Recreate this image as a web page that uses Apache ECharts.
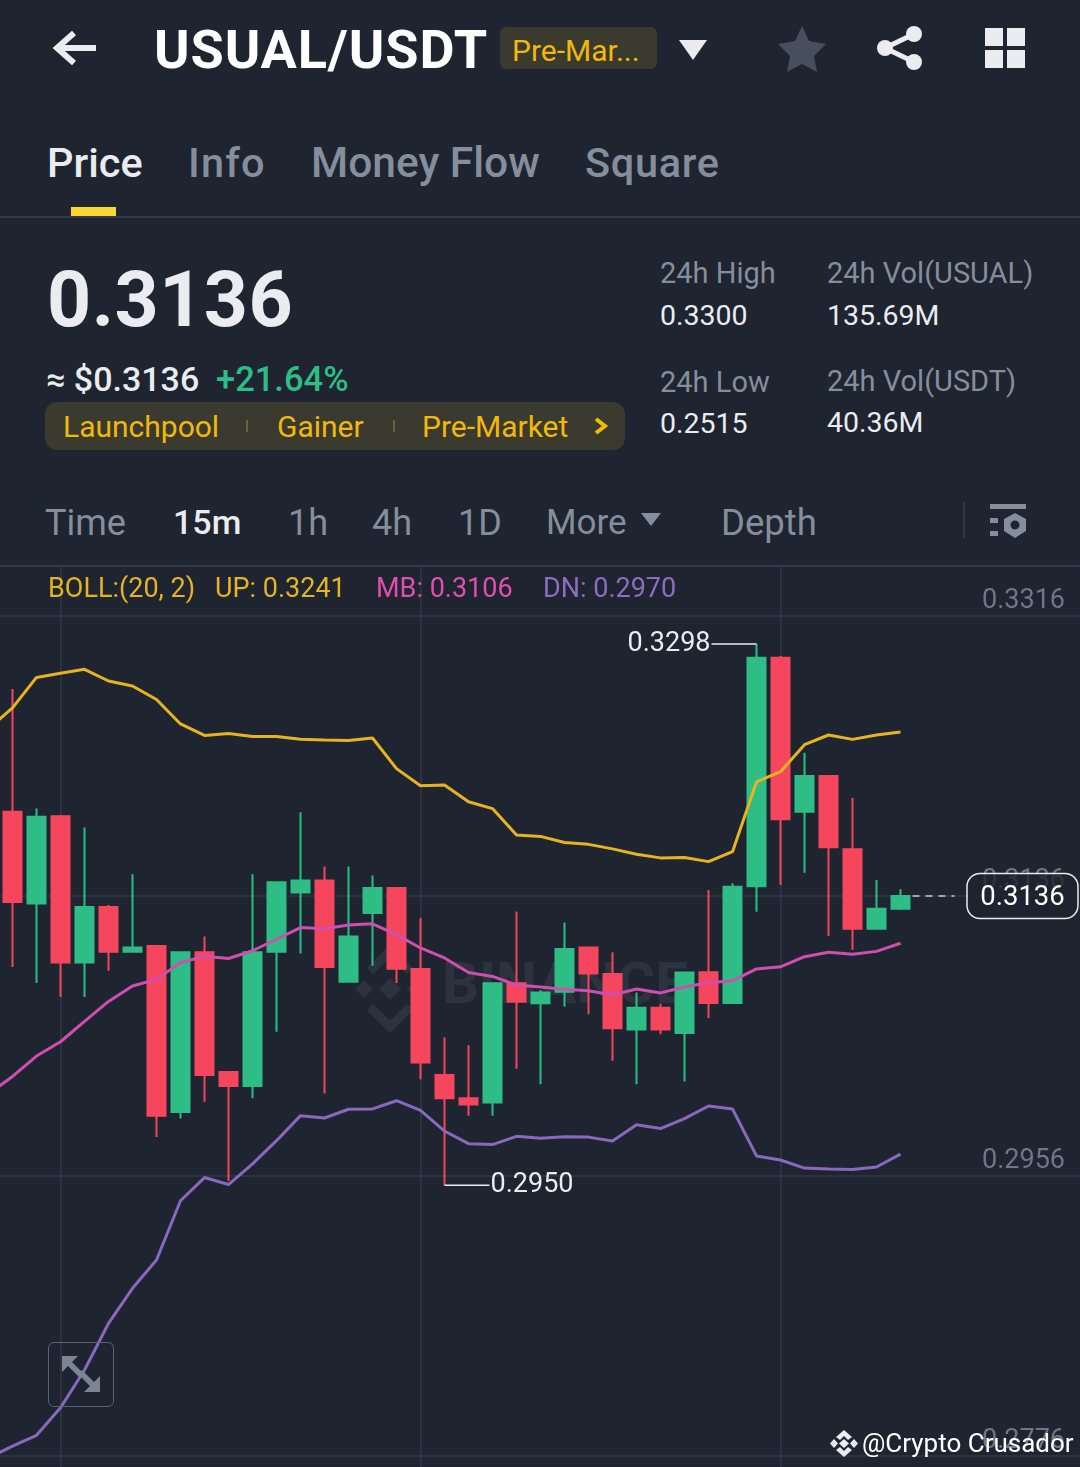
<!DOCTYPE html>
<html>

<head>
    <meta charset="utf-8">
    <title>USUAL/USDT</title>
    <script src="https://cdn.jsdelivr.net/npm/echarts@6/dist/echarts.min.js"></script>
    <style>
        html, body { margin: 0; padding: 0; background: #1E2430; }
        body { width: 1080px; height: 1467px; position: relative; overflow: hidden; font-family: Roboto, "Noto Sans", sans-serif; }
        #main { position: absolute; left: 0; top: 566px; width: 1080px; height: 901px; }
        .t { position: absolute; white-space: nowrap; line-height: 1; }
        .line { position: absolute; left: 0; width: 1080px; height: 2px; background: #333A47; }
        .box { position: absolute; }
        svg { position: absolute; overflow: visible; }
    </style>
</head>

<body>
    <div id="main"></div>

    <!-- top bar -->
    <svg style="left:0;top:0" width="1080" height="566">
        <path d="M96 48H58M74 33L57 48L74 63" fill="none" stroke="#EAECEF" stroke-width="6"/>
        <path d="M679 40H707L693 60Z" fill="#EAECEF"/>
        <path d="M802 26L809 41L826 44L814 56L817 72L802 64L787 72L790 56L778 44L795 41Z" fill="#474F5F"/>
        <g fill="#EAECEF"><circle cx="914" cy="34" r="8"/><circle cx="885" cy="48" r="8"/><circle cx="914" cy="62" r="8"/></g>
        <path d="M914 34L885 48L914 62" fill="none" stroke="#EAECEF" stroke-width="5"/>
        <g fill="#EAECEF"><rect x="985" y="28" width="18" height="18"/><rect x="1007" y="28" width="18" height="18"/><rect x="985" y="50" width="18" height="18"/><rect x="1007" y="50" width="18" height="18"/></g>
        <path d="M641 513H661L651 526Z" fill="#848E9C"/>
        <rect x="963" y="502" width="2" height="36" fill="#333A47"/>
        <g fill="#848E9C">
            <rect x="990" y="504" width="36" height="5"/><rect x="990" y="518" width="8" height="5"/><rect x="990" y="531" width="8" height="5"/>
            <path d="M1015 513L1026 519V531L1015 538L1004 531V519Z"/>
        </g>
        <circle cx="1015" cy="525" r="4.5" fill="#1E2430"/>
    </svg>
    <div class="t" style="left:154px;top:23px;font-size:54px;font-weight:700;color:#fff;letter-spacing:0.9px">USUAL/USDT</div>
    <div class="box" style="left:500px;top:27px;width:157px;height:42px;background:#3A3A2F;border-radius:6px"></div>
    <div class="t" style="left:512px;top:36px;font-size:30px;color:#F0B90B">Pre-Mar...</div>

    <div class="t" style="left:47px;top:142px;font-size:41.5px;font-weight:500;color:#EAECEF">Price</div>
    <div class="t" style="left:188px;top:142px;font-size:41.5px;font-weight:500;color:#848E9C;letter-spacing:1.2px">Info</div>
    <div class="t" style="left:311px;top:142px;font-size:42.5px;font-weight:500;color:#848E9C">Money Flow</div>
    <div class="t" style="left:585px;top:142px;font-size:41.5px;font-weight:500;color:#848E9C;letter-spacing:0.7px">Square</div>
    <div class="box" style="left:71px;top:207px;width:45px;height:9px;background:#FCD535"></div>
    <div class="line" style="top:216px"></div>

    <!-- price block -->
    <div class="t" style="left:47px;top:262px;font-size:77px;font-weight:700;color:#EAECEF;letter-spacing:0.5px">0.3136</div>
    <div class="t" style="left:46px;top:362px;font-size:34px;font-weight:500;color:#EAECEF">≈ $0.3136</div>
    <div class="t" style="left:216px;top:362px;font-size:34.5px;font-weight:500;color:#2EBD85">+21.64%</div>
    <div class="box" style="left:45px;top:402px;width:580px;height:48px;background:#3A3A2F;border-radius:12px"></div>
    <div class="t" style="left:63px;top:412px;font-size:30px;color:#F0B90B">Launchpool</div>
    <div class="box" style="left:246px;top:420px;width:2px;height:12px;background:#6B6335"></div>
    <div class="t" style="left:277px;top:412px;font-size:30px;color:#F0B90B">Gainer</div>
    <div class="box" style="left:393px;top:420px;width:2px;height:12px;background:#6B6335"></div>
    <div class="t" style="left:422px;top:412px;font-size:30px;color:#F0B90B">Pre-Market</div>
    <svg style="left:0;top:0" width="1" height="1"><path d="M596 419L605 426L596 433" fill="none" stroke="#F0B90B" stroke-width="4"/></svg>

    <div class="t" style="left:660px;top:259px;font-size:29px;color:#848E9C">24h High</div>
    <div class="t" style="left:827px;top:259px;font-size:29px;color:#848E9C">24h Vol(USUAL)</div>
    <div class="t" style="left:660px;top:302px;font-size:28.5px;color:#EAECEF">0.3300</div>
    <div class="t" style="left:827px;top:302px;font-size:28.5px;color:#EAECEF">135.69M</div>
    <div class="t" style="left:660px;top:368px;font-size:29px;color:#848E9C">24h Low</div>
    <div class="t" style="left:827px;top:367px;font-size:29px;color:#848E9C">24h Vol(USDT)</div>
    <div class="t" style="left:660px;top:410px;font-size:28.5px;color:#EAECEF">0.2515</div>
    <div class="t" style="left:827px;top:409px;font-size:28.5px;color:#EAECEF">40.36M</div>

    <!-- interval tabs -->
    <div class="t" style="left:45px;top:505px;font-size:36px;color:#848E9C">Time</div>
    <div class="t" style="left:173px;top:505px;font-size:34px;font-weight:500;color:#EAECEF">15m</div>
    <div class="t" style="left:288px;top:505px;font-size:36px;color:#848E9C">1h</div>
    <div class="t" style="left:372px;top:505px;font-size:36px;color:#848E9C">4h</div>
    <div class="t" style="left:458px;top:505px;font-size:36px;color:#848E9C">1D</div>
    <div class="t" style="left:546px;top:505px;font-size:35px;color:#848E9C">More</div>
    <div class="t" style="left:721px;top:505px;font-size:36.5px;color:#848E9C">Depth</div>
    <div class="line" style="top:565px"></div>

    <!-- BOLL legend -->
    <div class="t" style="left:48px;top:575px;font-size:27px;color:#E6B422">BOLL:(20, 2)</div>
    <div class="t" id="lgUp" style="left:215px;top:575px;font-size:27px;color:#E6B422"></div>
    <div class="t" id="lgMb" style="left:376px;top:575px;font-size:27px;color:#E04FB0"></div>
    <div class="t" id="lgDn" style="left:543px;top:575px;font-size:27px;color:#8E6CC4"></div>

    <!-- expand button and credit -->
    <div class="box" style="left:48px;top:1342px;width:64px;height:63px;border:1.5px solid #5B626E;border-radius:6px"></div>
    <svg style="left:0;top:0" width="1" height="1">
        <path d="M62 1356H78L72 1362L84 1374L80 1378L68 1366L62 1372Z M100 1392H84L90 1386L78 1374L82 1370L94 1382L100 1376Z" fill="#7C8593"/>
        <g fill="#EAECEF"><path d="M844 1430L852 1437L848 1440L844 1436L840 1440L836 1437Z"/><path d="M844 1457L852 1450L848 1447L844 1451L840 1447L836 1450Z"/><path d="M844 1439L849 1443.5L844 1448L839 1443.5Z"/><path d="M834 1439L838 1443.5L834 1448L830 1443.5Z"/><path d="M854 1439L858 1443.5L854 1448L850 1443.5Z"/></g>
    </svg>
    <div class="t" style="left:862px;top:1430px;font-size:26px;color:#fff">@Crypto Crusador</div>

    <script type="text/javascript">
        // first slot sits off screen, only the band lines reach it
        var candles = [
            '-',
            [0.31901, 0.31321, 0.30903, 0.32691], [0.31311, 0.31869, 0.30801, 0.31922],
            [0.31872, 0.30932, 0.30710, 0.31881], [0.30932, 0.31289, 0.30710, 0.31800],
            [0.31289, 0.31001, 0.30880, 0.31302], [0.31001, 0.31029, 0.31001, 0.31500],
            [0.31039, 0.29948, 0.29810, 0.31039], [0.29971, 0.30999, 0.29929, 0.30999],
            [0.30999, 0.30209, 0.30037, 0.31100], [0.30228, 0.30139, 0.29528, 0.30228],
            [0.30139, 0.30999, 0.30060, 0.31500], [0.31001, 0.31449, 0.30487, 0.31449],
            [0.31383, 0.31460, 0.30990, 0.31899], [0.31460, 0.30903, 0.30090, 0.31550],
            [0.30808, 0.31100, 0.30808, 0.31550], [0.31251, 0.31412, 0.30912, 0.31491],
            [0.31412, 0.30893, 0.30801, 0.31412], [0.30891, 0.30290, 0.30182, 0.31219],
            [0.30209, 0.30060, 0.29500, 0.30450], [0.30060, 0.30019, 0.29948, 0.30400],
            [0.30032, 0.30799, 0.29948, 0.30799], [0.30799, 0.30680, 0.30250, 0.31261],
            [0.30671, 0.30740, 0.30150, 0.30756], [0.30744, 0.31020, 0.30650, 0.31190],
            [0.31029, 0.30861, 0.30600, 0.31029], [0.30859, 0.30510, 0.30301, 0.30999],
            [0.30501, 0.30641, 0.30150, 0.30740], [0.30641, 0.30501, 0.30471, 0.30668],
            [0.30480, 0.30868, 0.30168, 0.30868], [0.30870, 0.30672, 0.30576, 0.31399],
            [0.30672, 0.31420, 0.30672, 0.31442], [0.31422, 0.32892, 0.31259, 0.32980],
            [0.32892, 0.31853, 0.31431, 0.32903], [0.31902, 0.32131, 0.31510, 0.32281],
            [0.32131, 0.31673, 0.31103, 0.32131], [0.31660, 0.31150, 0.31013, 0.31990],
            [0.31150, 0.31278, 0.31150, 0.31463], [0.31278, 0.31360, 0.31270, 0.31403]
        ];
        var bollUp = [0.32434, 0.32569, 0.32765, 0.32792, 0.32817, 0.32742, 0.32710, 0.32623, 0.32466, 0.32392,
            0.32404, 0.32386, 0.32386, 0.32367, 0.32363, 0.32360, 0.32376, 0.32179, 0.32069, 0.32074,
            0.31966, 0.31922, 0.31752, 0.31743, 0.31704, 0.31692, 0.31663, 0.31628, 0.31605, 0.31608,
            0.31581, 0.31645, 0.32093, 0.32159, 0.32333, 0.32395, 0.32367, 0.32395, 0.32414];
        var bollMb = [0.30087, 0.30200, 0.30331, 0.30423, 0.30554, 0.30682, 0.30781, 0.30824, 0.30932, 0.30972,
            0.30958, 0.31008, 0.31082, 0.31157, 0.31150, 0.31174, 0.31181, 0.31112, 0.31026, 0.30962,
            0.30868, 0.30843, 0.30788, 0.30775, 0.30760, 0.30751, 0.30724, 0.30762, 0.30737, 0.30775,
            0.30803, 0.30815, 0.30891, 0.30905, 0.30970, 0.30998, 0.30985, 0.31004, 0.31056];
        var bollDn = [0.27747, 0.27824, 0.27893, 0.28070, 0.28313, 0.28613, 0.28838, 0.29020, 0.29401, 0.29550,
            0.29505, 0.29638, 0.29787, 0.29948, 0.29933, 0.29989, 0.29991, 0.30044, 0.29982, 0.29849,
            0.29768, 0.29762, 0.29815, 0.29803, 0.29812, 0.29810, 0.29785, 0.29890, 0.29865, 0.29929,
            0.30010, 0.29991, 0.29689, 0.29663, 0.29611, 0.29605, 0.29602, 0.29618, 0.29701];
        var priceTicks = [0.2776, 0.2956, 0.3136, 0.3316];
        var yMin = 0.276893;
        var yMax = 0.334814;
        var lastPrice = 0.3136;
        var highPoint = [32, 0.3298];
        var lowPoint = [19, 0.2950];

        // 15 minute slots, the right side of the axis stays empty
        var slots = [];
        for (var n = 0; n < 47; n++) slots.push(String(n));

        var GREEN = '#2EBD85', RED = '#F6465D', GRID = '#2C3340';

        document.getElementById('lgUp').textContent = 'UP: ' + bollUp[bollUp.length - 1].toFixed(4);
        document.getElementById('lgMb').textContent = 'MB: ' + bollMb[bollMb.length - 1].toFixed(4);
        document.getElementById('lgDn').textContent = 'DN: ' + bollDn[bollDn.length - 1].toFixed(4);

        var myChart = echarts.init(document.getElementById('main'));

        function bandLine(name, data, color) {
            return {
                name: name,
                type: 'line',
                data: data,
                symbol: 'none',
                silent: true,
                z: 5,
                lineStyle: { color: color, width: 3 }
            };
        }

        myChart.setOption({
            animation: false,
            backgroundColor: 'transparent',
            textStyle: { fontFamily: 'Roboto' },
            // grid runs past both edges of the canvas
            grid: { left: -11.5, width: 1104, top: 0, bottom: 0, outerBoundsMode: 'none' },
            xAxis: {
                type: 'category',
                boundaryGap: false,
                data: slots,
                axisLine: { show: false },
                axisTick: { show: false },
                axisLabel: { show: false },
                splitLine: {
                    show: true,
                    interval: function (i) { return (i - 3) % 15 === 0; },
                    lineStyle: { color: GRID, width: 2 }
                }
            },
            yAxis: {
                type: 'value',
                position: 'right',
                min: yMin,
                max: yMax,
                axisLine: { show: false },
                axisTick: { show: false, customValues: priceTicks },
                axisLabel: {
                    inside: true,
                    customValues: priceTicks,
                    margin: 27.5,
                    fontSize: 27,
                    color: '#6F7784',
                    verticalAlign: 'bottom',
                    padding: [0, 0, 1, 0],
                    formatter: function (v) { return v.toFixed(4); }
                },
                splitLine: { show: true, lineStyle: { color: GRID, width: 2 } }
            },
            series: [{
                name: 'Kline',
                type: 'candlestick',
                data: candles,
                barWidth: 19,
                z: 3,
                itemStyle: {
                    color: GREEN,
                    color0: RED,
                    borderColor: GREEN,
                    borderColor0: RED,
                    borderWidth: 2
                }
            },
            bandLine('UP', bollUp, '#E6B422'),
            bandLine('MB', bollMb, '#CF4FB0'),
            bandLine('DN', bollDn, '#8A68BE')]
        });

        // watermark pieces
        function diamond(cx, cy, r) {
            return { type: 'polygon', z: 1, silent: true, shape: { points: [[cx, cy - r], [cx + r, cy], [cx, cy + r], [cx - r, cy]] }, style: { fill: 'rgba(255,255,255,0.07)' } };
        }
        function chevron(cx, cy, dir) {
            return { type: 'polyline', z: 1, silent: true, shape: { points: [[cx - 20, cy], [cx, cy + dir * -20], [cx + 20, cy]] }, style: { fill: 'none', stroke: 'rgba(255,255,255,0.07)', lineWidth: 9 } };
        }

        // high, low and last price notes hang off the axes
        var hi = myChart.convertToPixel({ xAxisIndex: 0, yAxisIndex: 0 }, highPoint);
        var lo = myChart.convertToPixel({ xAxisIndex: 0, yAxisIndex: 0 }, lowPoint);
        var lastY = myChart.convertToPixel({ yAxisIndex: 0 }, lastPrice);
        var lastX = myChart.convertToPixel({ xAxisIndex: 0 }, 38);
        var noteFont = { fontSize: 27, fontFamily: 'Roboto', fill: '#EAECEF' };

        myChart.setOption({
            graphic: [
                diamond(390, 423, 11), diamond(364, 423, 9), diamond(416, 423, 9),
                chevron(390, 405, 1), chevron(390, 441, -1),
                {
                    type: 'text', z: 1, silent: true, x: 442, y: 422,
                    style: { text: 'BINANCE', fontSize: 58, fontWeight: 700, fontFamily: 'Roboto', fill: 'rgba(255,255,255,0.07)', verticalAlign: 'middle' }
                },
                {
                    type: 'polyline', z: 10, silent: true,
                    shape: { points: [[hi[0] - 45, hi[1]], [hi[0], hi[1]]] },
                    style: { stroke: '#EAECEF', lineWidth: 1.5, fill: 'none' }
                },
                {
                    type: 'text', z: 10, silent: true, x: hi[0] - 46, y: hi[1],
                    style: Object.assign({ text: highPoint[1].toFixed(4), align: 'right', verticalAlign: 'middle' }, noteFont)
                },
                {
                    type: 'polyline', z: 10, silent: true,
                    shape: { points: [[lo[0], lo[1]], [lo[0] + 45, lo[1]]] },
                    style: { stroke: '#EAECEF', lineWidth: 1.5, fill: 'none' }
                },
                {
                    type: 'text', z: 10, silent: true, x: lo[0] + 46, y: lo[1],
                    style: Object.assign({ text: lowPoint[1].toFixed(4), align: 'left', verticalAlign: 'middle' }, noteFont)
                },
                {
                    type: 'polyline', z: 10, silent: true,
                    shape: { points: [[lastX + 12, lastY], [lastX + 54, lastY]] },
                    style: { stroke: '#C8CCD2', lineWidth: 1.5, lineDash: [7, 6], fill: 'none' }
                },
                {
                    type: 'rect', z: 10, silent: true,
                    shape: { x: lastX + 66.5, y: lastY - 22.5, width: 111, height: 45, r: 13 },
                    style: { fill: 'rgba(30,36,48,0.8)', stroke: '#EAECEF', lineWidth: 1.5 }
                },
                {
                    type: 'text', z: 11, silent: true, x: lastX + 122, y: lastY + 2,
                    style: { text: lastPrice.toFixed(4), fontSize: 27.5, fontFamily: 'Roboto', fill: '#fff', align: 'center', verticalAlign: 'middle' }
                }
            ]
        });
    </script>
</body>

</html>
